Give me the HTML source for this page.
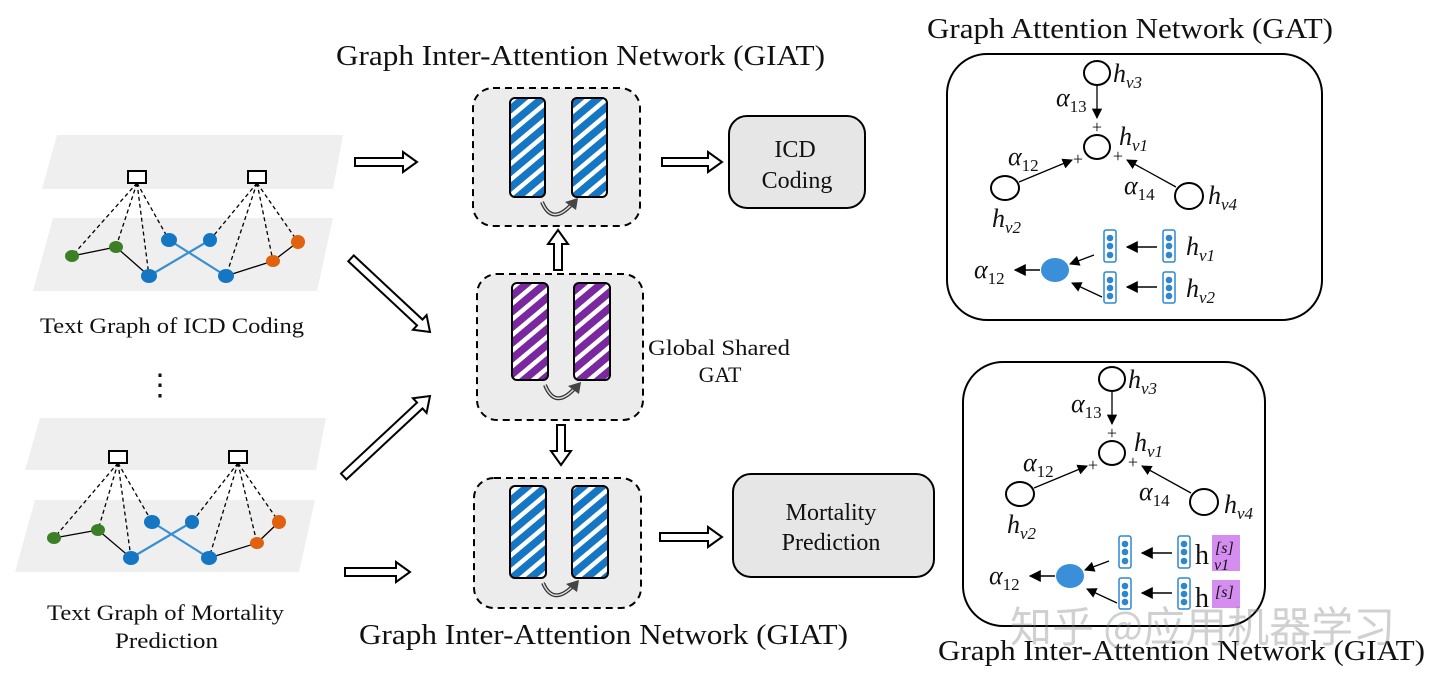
<!DOCTYPE html>
<html><head><meta charset="utf-8"><style>
html,body{margin:0;padding:0;background:#fff;}
svg{display:block;}
text{font-family:"Liberation Serif",serif;fill:#111;}
.it{font-style:italic;}
</style></head><body>
<svg width="1440" height="686" viewBox="0 0 1440 686" xmlns="http://www.w3.org/2000/svg">
<defs>
<pattern id="pb" width="12" height="12" patternUnits="userSpaceOnUse" patternTransform="rotate(-40)">
<rect width="12" height="12" fill="#fff"/><rect width="12" height="7.5" fill="#1577c4"/></pattern>
<pattern id="pp" width="12" height="12" patternUnits="userSpaceOnUse" patternTransform="rotate(-40)">
<rect width="12" height="12" fill="#fff"/><rect width="12" height="7.5" fill="#7a27a0"/></pattern>
<marker id="ah" viewBox="0 0 10 10" refX="9" refY="5" markerWidth="8" markerHeight="8" orient="auto"><path d="M0,0 L10,5 L0,10z" fill="#000"/></marker>
</defs>

<!-- left graphs -->
<g>
<polygon points="57,135 343,135 333,189 42,189" fill="#efefef"/>
<polygon points="53,218 333,218 317,291 33,291" fill="#efefef"/>
<g stroke="#000" stroke-width="1.3" stroke-dasharray="4,3" fill="none">
<path d="M137,183 L72,256 M137,183 L116,247 M137,183 L149,276 M137,183 L169,240"/>
<path d="M257,183 L210,240 M257,183 L226,276 M257,183 L273,261 M257,183 L298,242"/>
</g>
<path d="M72,256 L116,247 M116,247 L149,276 M226,276 L273,261 L298,242" stroke="#000" stroke-width="1.3" fill="none"/>
<path d="M149,276 L210,240 M169,240 L226,276" stroke="#3a8fd0" stroke-width="2.2" fill="none"/>
<rect x="128" y="171" width="18" height="12" fill="#fff" stroke="#000" stroke-width="2"/>
<rect x="248" y="171" width="18" height="12" fill="#fff" stroke="#000" stroke-width="2"/>
<ellipse cx="72" cy="256" rx="7" ry="6" fill="#3d7f25"/><ellipse cx="116" cy="247" rx="7" ry="6" fill="#3d7f25"/>
<ellipse cx="169" cy="240" rx="8" ry="7" fill="#1577c4"/><ellipse cx="149" cy="276" rx="8" ry="7" fill="#1577c4"/>
<ellipse cx="210" cy="240" rx="7" ry="7" fill="#1577c4"/><ellipse cx="226" cy="276" rx="8" ry="7" fill="#1577c4"/>
<ellipse cx="273" cy="261" rx="7" ry="6" fill="#e0620e"/><ellipse cx="298" cy="242" rx="7" ry="7" fill="#e0620e"/>
<text x="40" y="333" font-size="22" textLength="264" lengthAdjust="spacingAndGlyphs">Text Graph of ICD Coding</text>
<text x="160" y="395" font-size="30" text-anchor="middle">⋮</text>
</g>
<g>
<polygon points="40,418 326,418 316,470 25,470" fill="#efefef"/>
<polygon points="35,500 315,500 299,572 15,572" fill="#efefef"/>
<g stroke="#000" stroke-width="1.3" stroke-dasharray="4,3" fill="none">
<path d="M118,463 L54,538 M118,463 L98,530 M118,463 L131,558 M118,463 L152,522"/>
<path d="M238,463 L192,522 M238,463 L209,558 M238,463 L257,543 M238,463 L279,522"/>
</g>
<path d="M54,538 L98,530 M98,530 L131,558 M209,558 L257,543 L279,522" stroke="#000" stroke-width="1.3" fill="none"/>
<path d="M131,558 L192,522 M152,522 L209,558" stroke="#3a8fd0" stroke-width="2.2" fill="none"/>
<rect x="109" y="451" width="18" height="12" fill="#fff" stroke="#000" stroke-width="2"/>
<rect x="229" y="451" width="18" height="12" fill="#fff" stroke="#000" stroke-width="2"/>
<ellipse cx="54" cy="538" rx="7" ry="6" fill="#3d7f25"/><ellipse cx="98" cy="530" rx="7" ry="6" fill="#3d7f25"/>
<ellipse cx="152" cy="522" rx="8" ry="7" fill="#1577c4"/><ellipse cx="131" cy="558" rx="8" ry="7" fill="#1577c4"/>
<ellipse cx="192" cy="522" rx="7" ry="7" fill="#1577c4"/><ellipse cx="209" cy="558" rx="8" ry="7" fill="#1577c4"/>
<ellipse cx="257" cy="543" rx="7" ry="6" fill="#e0620e"/><ellipse cx="279" cy="522" rx="7" ry="7" fill="#e0620e"/>
<text x="47" y="620" font-size="22" textLength="237" lengthAdjust="spacingAndGlyphs">Text Graph of Mortality</text>
<text x="115" y="648" font-size="22" textLength="103" lengthAdjust="spacingAndGlyphs">Prediction</text>
</g>

<!-- hollow arrows -->
<polygon points="355,158 403,158 403,152 417,162 403,172 403,166 355,166" fill="#fff" stroke="#000" stroke-width="2"/>
<g transform="translate(430,332) rotate(43)"><polygon points="-108,-4 -14,-4 -14,-10 0,0 -14,10 -14,4 -108,4" fill="#fff" stroke="#000" stroke-width="2"/></g>
<g transform="translate(430,396) rotate(-43)"><polygon points="-118,-4 -14,-4 -14,-10 0,0 -14,10 -14,4 -118,4" fill="#fff" stroke="#000" stroke-width="2"/></g>
<polygon points="345,568 396,568 396,562 410,572 396,582 396,576 345,576" fill="#fff" stroke="#000" stroke-width="2"/>
<polygon points="662,158 708,158 708,152 722,162 708,172 708,166 662,166" fill="#fff" stroke="#000" stroke-width="2"/>
<polygon points="660,533 708,533 708,527 722,537 708,547 708,541 660,541" fill="#fff" stroke="#000" stroke-width="2"/>
<polygon points="554,270 554,244 548,244 558,230 568,244 562,244 562,270" fill="#fff" stroke="#000" stroke-width="2"/>
<polygon points="557,425 557,451 551,451 561,465 571,451 565,451 565,425" fill="#fff" stroke="#000" stroke-width="2"/>

<!-- GIAT boxes -->
<text x="336" y="65" font-size="28" textLength="489" lengthAdjust="spacingAndGlyphs">Graph Inter-Attention Network (GIAT)</text>
<rect x="473" y="88" width="167" height="138" rx="20" fill="#ececec" stroke="#000" stroke-width="2" stroke-dasharray="7,5"/>
<rect x="510" y="98" width="35" height="99" rx="5" fill="url(#pb)" stroke="#000" stroke-width="2"/>
<rect x="572" y="98" width="35" height="99" rx="5" fill="url(#pb)" stroke="#000" stroke-width="2"/>
<path d="M542,202 Q552,226 572,204" fill="none" stroke="#333" stroke-width="4"/><path d="M542,202 Q552,226 572,204" fill="none" stroke="#ddd" stroke-width="1.5"/>
<path d="M565,202 L578,198 L576,210z" fill="#444"/>

<rect x="477" y="274" width="166" height="146" rx="20" fill="#ececec" stroke="#000" stroke-width="2" stroke-dasharray="7,5"/>
<rect x="512" y="283" width="36" height="97" rx="5" fill="url(#pp)" stroke="#000" stroke-width="2"/>
<rect x="574" y="283" width="36" height="97" rx="5" fill="url(#pp)" stroke="#000" stroke-width="2"/>
<path d="M545,385 Q555,410 575,388" fill="none" stroke="#333" stroke-width="4"/><path d="M545,385 Q555,410 575,388" fill="none" stroke="#ddd" stroke-width="1.5"/>
<path d="M568,386 L581,382 L579,394z" fill="#444"/>
<text x="648" y="355" font-size="22" textLength="142" lengthAdjust="spacingAndGlyphs">Global Shared</text>
<text x="720" y="382" font-size="22" text-anchor="middle">GAT</text>

<rect x="474" y="478" width="167" height="130" rx="20" fill="#ececec" stroke="#000" stroke-width="2" stroke-dasharray="7,5"/>
<rect x="510" y="486" width="36" height="92" rx="5" fill="url(#pb)" stroke="#000" stroke-width="2"/>
<rect x="572" y="486" width="36" height="92" rx="5" fill="url(#pb)" stroke="#000" stroke-width="2"/>
<path d="M543,583 Q553,606 573,586" fill="none" stroke="#333" stroke-width="4"/><path d="M543,583 Q553,606 573,586" fill="none" stroke="#ddd" stroke-width="1.5"/>
<path d="M566,584 L579,580 L577,592z" fill="#444"/>
<text x="359" y="644" font-size="28" textLength="489" lengthAdjust="spacingAndGlyphs">Graph Inter-Attention Network (GIAT)</text>

<rect x="729" y="116" width="136" height="92" rx="18" fill="#e6e6e6" stroke="#000" stroke-width="2"/>
<text x="795" y="157" font-size="24" text-anchor="middle">ICD</text>
<text x="797" y="188" font-size="24" text-anchor="middle">Coding</text>
<rect x="733" y="474" width="201" height="103" rx="18" fill="#e6e6e6" stroke="#000" stroke-width="2"/>
<text x="831" y="520" font-size="24" text-anchor="middle">Mortality</text>
<text x="831" y="550" font-size="24" text-anchor="middle">Prediction</text>

<!-- GAT right top -->
<text x="927" y="38" font-size="28" textLength="406" lengthAdjust="spacingAndGlyphs">Graph Attention Network (GAT)</text>
<rect x="947" y="54" width="375" height="266" rx="40" fill="#fff" stroke="#000" stroke-width="2"/>
<g id="gat">
<ellipse cx="1097" cy="73" rx="13" ry="12" fill="#fff" stroke="#000" stroke-width="2"/>
<ellipse cx="1097" cy="147" rx="13" ry="12" fill="#fff" stroke="#000" stroke-width="2"/>
<ellipse cx="1005" cy="188" rx="14" ry="12" fill="#fff" stroke="#000" stroke-width="2"/>
<ellipse cx="1189" cy="196" rx="14" ry="13" fill="#fff" stroke="#000" stroke-width="2"/>
<line x1="1097" y1="85" x2="1097" y2="118" stroke="#000" stroke-width="1.3" marker-end="url(#ah)"/>
<line x1="1019" y1="182" x2="1072" y2="160" stroke="#000" stroke-width="1.3" marker-end="url(#ah)"/>
<line x1="1176" y1="187" x2="1127" y2="160" stroke="#000" stroke-width="1.3" marker-end="url(#ah)"/>
<text x="1097" y="133" font-size="18" text-anchor="middle">+</text>
<text x="1078" y="165" font-size="18" text-anchor="middle">+</text>
<text x="1118" y="162" font-size="18" text-anchor="middle">+</text>
<line x1="1040" y1="270" x2="1015" y2="270" stroke="#000" stroke-width="1.5" marker-end="url(#ah)"/>
<ellipse cx="1055" cy="270" rx="14" ry="12" fill="#3a8fd8"/>
<line x1="1094" y1="255" x2="1070" y2="264" stroke="#000" stroke-width="1.3" marker-end="url(#ah)"/>
<line x1="1102" y1="297" x2="1072" y2="283" stroke="#000" stroke-width="1.3" marker-end="url(#ah)"/>
<line x1="1157" y1="247" x2="1127" y2="247" stroke="#000" stroke-width="1.5" marker-end="url(#ah)"/>
<line x1="1157" y1="287" x2="1127" y2="287" stroke="#000" stroke-width="1.5" marker-end="url(#ah)"/>
<g fill="#fff" stroke="#2e86d0" stroke-width="1.5">
<rect x="1104" y="230" width="12" height="32" rx="2"/><rect x="1104" y="272" width="12" height="31" rx="2"/>
<rect x="1163" y="230" width="12" height="32" rx="2"/><rect x="1163" y="272" width="12" height="31" rx="2"/>
</g>
<g fill="#2e86d0">
<circle cx="1110" cy="238" r="3.3"/><circle cx="1110" cy="246" r="3.3"/><circle cx="1110" cy="255" r="3.3"/>
<circle cx="1110" cy="280" r="3.3"/><circle cx="1110" cy="288" r="3.3"/><circle cx="1110" cy="296" r="3.3"/>
<circle cx="1169" cy="238" r="3.3"/><circle cx="1169" cy="246" r="3.3"/><circle cx="1169" cy="255" r="3.3"/>
<circle cx="1169" cy="280" r="3.3"/><circle cx="1169" cy="288" r="3.3"/><circle cx="1169" cy="296" r="3.3"/>
</g>
<text x="1113" y="82" font-size="26" class="it">h<tspan font-size="17" dy="6">v3</tspan></text>
<text x="1056" y="106" font-size="26" class="it">α<tspan font-size="17" dy="6" font-style="normal">13</tspan></text>
<text x="1119" y="145" font-size="26" class="it">h<tspan font-size="17" dy="6">v1</tspan></text>
<text x="1008" y="165" font-size="26" class="it">α<tspan font-size="17" dy="6" font-style="normal">12</tspan></text>
<text x="1124" y="194" font-size="26" class="it">α<tspan font-size="17" dy="6" font-style="normal">14</tspan></text>
<text x="992" y="227" font-size="26" class="it">h<tspan font-size="17" dy="6">v2</tspan></text>
<text x="974" y="278" font-size="26" class="it">α<tspan font-size="17" dy="6" font-style="normal">12</tspan></text>
</g>
<text x="1208" y="204" font-size="26" class="it">h<tspan font-size="17" dy="6">v4</tspan></text>
<text x="1186" y="255" font-size="26" class="it">h<tspan font-size="17" dy="6">v1</tspan></text>
<text x="1186" y="297" font-size="26" class="it">h<tspan font-size="17" dy="6">v2</tspan></text>

<!-- bottom right -->
<rect x="963" y="362" width="302" height="264" rx="40" fill="#fff" stroke="#000" stroke-width="2"/>
<use href="#gat" transform="translate(15,306)"/>
<text x="1224" y="513" font-size="26" class="it">h<tspan font-size="17" dy="6">v4</tspan></text>
<rect x="1212" y="535" width="28" height="36" fill="#d58ef0"/>
<rect x="1212" y="580" width="28" height="28" fill="#d58ef0"/>
<text x="1195" y="564" font-size="28">h</text><text x="1215" y="553" font-size="16" class="it">[s]</text><text x="1214" y="570" font-size="16" class="it">v1</text>
<text x="1195" y="607" font-size="28">h</text><text x="1215" y="597" font-size="16" class="it">[s]</text>

<text x="938" y="660" font-size="28" textLength="487" lengthAdjust="spacingAndGlyphs">Graph Inter-Attention Network (GIAT)</text>
<text x="1010" y="642" font-size="42" style="font-family:'Noto Sans CJK SC',sans-serif;fill:rgba(120,120,120,0.35)">知乎 @应用机器学习</text>
</svg>
</body></html>
